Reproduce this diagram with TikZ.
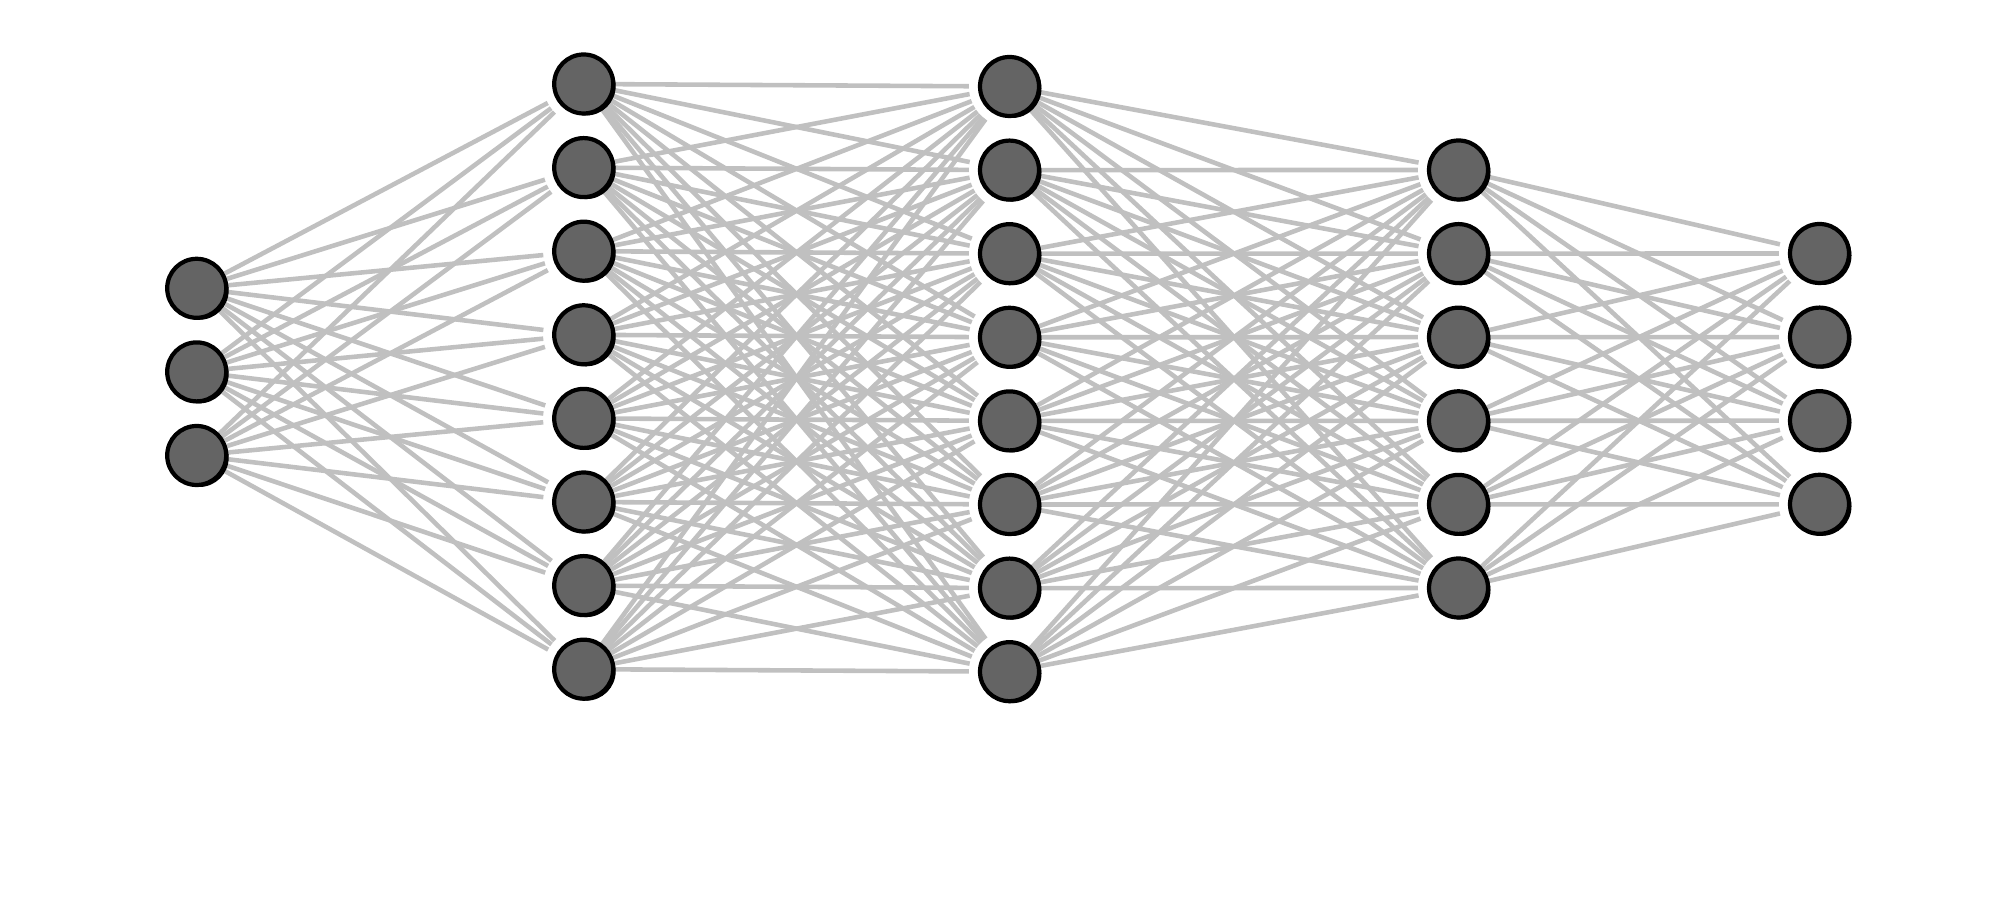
\documentclass[tikz,border=0pt]{standalone}
\usetikzlibrary{shadows,backgrounds}
\definecolor{unitgray}{RGB}{100,100,100}
\definecolor{wiregray}{RGB}{192,192,192}
\begin{document}
\begin{tikzpicture}
    \tikzstyle{neuron}=[circle, minimum size=5.9mm, inner sep=0pt, fill=unitgray, draw=black, line width=1.2pt,
        drop shadow={shadow xshift=0.25mm, shadow yshift=-0.2mm, fill=black, opacity=1}]
    \tikzstyle{weight}=[draw=wiregray, line width=1.3pt, shorten >=0.9mm]
    \useasboundingbox (0,0) rectangle (20,9.24);
    % layers
    \foreach \i in {1,...,3}
        \node[neuron] (in\i) at (1.967, {7.193-0.836*\i}) {};
    \foreach \i in {1,...,8}
        \node[neuron] (ha\i) at (5.837, {9.236-0.836*\i}) {};
    \foreach \i in {1,...,8}
        \node[neuron] (hb\i) at (10.095, {9.211-0.836*\i}) {};
    \foreach \i in {1,...,6}
        \node[neuron] (hc\i) at (14.585, {8.376-0.836*\i}) {};
    \foreach \i in {1,...,4}
        \node[neuron] (out\i) at (18.195, {7.541-0.836*\i}) {};
    % connections
    \begin{scope}[on background layer]
        \foreach \i in {1,...,3}
            \foreach \j in {1,...,8}
                \draw[weight] (in\i) -- (ha\j);
        \foreach \i in {1,...,8}
            \foreach \j in {1,...,8}
                \draw[weight] (ha\i) -- (hb\j);
        \foreach \i in {1,...,8}
            \foreach \j in {1,...,6}
                \draw[weight] (hb\i) -- (hc\j);
        \foreach \i in {1,...,6}
            \foreach \j in {1,...,4}
                \draw[weight] (hc\i) -- (out\j);
    \end{scope}
\end{tikzpicture}
\end{document}
